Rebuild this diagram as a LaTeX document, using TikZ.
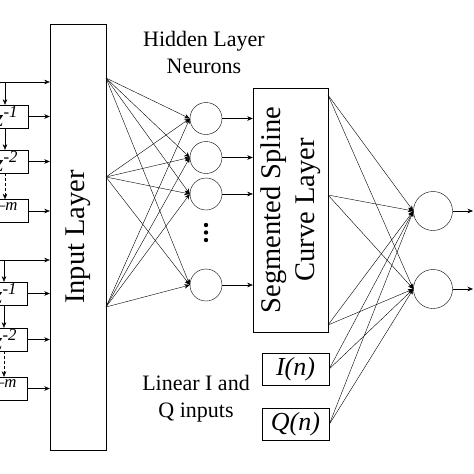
\documentclass[tikz,border=0pt]{standalone}
\usepackage{fontspec}
\setmainfont{Liberation Serif}
\usepackage{tikz}
\usetikzlibrary{
  arrows.meta,
  positioning,  % Function "of" (e.g. [right=of x])
  calc,         % Calculations $...$
}
\def\mytap{7pt}
\def\mytail{8pt}
\tikzset{
  font=\fontsize{22}{27}\selectfont,
  line width=1.3pt,
  >={Stealth[length=5.5pt,width=4.5pt]},
  my layer/.style={
    draw,
    rectangle,
    inner sep=0pt
  },
  my layer text/.style={
    rotate=90,
    align=center,
    font=\fontsize{28.5}{34}\selectfont
  },
  my delay/.style={
    draw,
    rectangle,
    minimum width=60pt,
    minimum height=23pt,
    text width=56pt,
    inner sep=0pt,
    align=right,
    font=\fontsize{24}{24}\selectfont\itshape
  },
  my neuron/.style={
    draw,
    circle,
    minimum size=32pt,
    inner sep=0pt
  },
  my out neuron/.style={
    my neuron,
    minimum size=39pt
  },
  my signal/.style={
    draw,
    rectangle,
    minimum width=67pt,
    minimum height=32pt,
    inner sep=0pt,
    font=\fontsize{26}{26}\selectfont\itshape
  },
  my tapped/.style={
    dash pattern=on 3pt off 2pt
  }
}
\newcommand{\zd}[1]{z\textsuperscript{#1}\kern\mytail}
\begin{document}
\begin{tikzpicture}[x=1pt,y=-1pt]
\clip (0,0) rectangle (474,474);
% layers
\node[my layer,minimum width=56pt,minimum height=426pt] (input) at (78,237) {};
\node[my layer text] (inputtext) at (input.center) {Input Layer};
\node[my layer,minimum width=75pt,minimum height=244pt] (spline) at (290.5,210) {};
\node[my layer text] (splinetext) at (spline.center) {Segmented Spline\\Curve Layer};
% tapped delay lines
\node[my delay] (a1) at (-2,116.5) {\zd{-1}};
\node[my delay] (a2) at (-2,161.5) {\zd{-2}};
\node[my delay] (am) at (-2,211)   {\zd{\textendash m}};
\node[my delay] (b1) at (-3,293.5) {\zd{-1}};
\node[my delay] (b2) at (-3,339.5) {\zd{-2}};
\node[my delay] (bm) at (-3,388.5) {\zd{\textendash m}};
\coordinate (ta) at (-5,82);
\coordinate (tb) at (-5,260);
\draw[->] (ta) -- (ta -| input.west);
\draw[->] (tb) -- (tb -| input.west);
\draw[->] ([xshift=\mytap]a1.north |- ta) -- ([xshift=\mytap]a1.north);
\draw[->] ([xshift=\mytap]a1.south) -- ([xshift=\mytap]a2.north);
\draw[->,my tapped] ([xshift=\mytap]a2.south) -- ([xshift=\mytap]am.north);
\draw[->] ([xshift=\mytap]b1.north |- tb) -- ([xshift=\mytap]b1.north);
\draw[->] ([xshift=\mytap]b1.south) -- ([xshift=\mytap]b2.north);
\draw[->,my tapped] ([xshift=\mytap]b2.south) -- ([xshift=\mytap]bm.north);
\foreach \d in {a1,a2,am,b1,b2,bm}
  \draw[->] (\d.east) -- (\d.east -| input.west);
% hidden layer
\node[my neuron] (h1) at (206,118.5) {};
\node[my neuron] (h2) at (206,157.5) {};
\node[my neuron] (h3) at (206,194) {};
\node[my neuron] (hn) at (206,285) {};
\foreach \y in {225,232.5,240}
  \fill (206,\y) circle (2.2pt);
\coordinate (i1) at (106,78);
\coordinate (i2) at (106,177);
\coordinate (i3) at (106,307);
\foreach \s in {i1,i2,i3}
  \foreach \t in {h1,h2,h3,hn}
    \draw[->] (\s) -- (\t.west);
\foreach \t in {h1,h2,h3,hn}
  \draw[->] (\t.east) -- (\t.east -| spline.west);
\node[align=center] (hiddentext) at (204,52.5) {Hidden Layer\\Neurons};
% linear inputs
\node[my signal] (in) at (295.5,369) {I(n)};
\node[my signal] (qn) at (295.5,424.5) {Q(n)};
\node[align=center] (lineartext) at (196,398.5) {Linear I and\\Q inputs};
% output layer
\node[my out neuron] (o1) at (433,211) {};
\node[my out neuron] (o2) at (433,289) {};
\coordinate (s1) at (328,95);
\coordinate (s2) at (328,195);
\coordinate (s3) at (328,325);
\foreach \s in {s1,s2,s3,in.east,qn.east}
  \foreach \t in {o1,o2}
    \draw[->] (\s) -- (\t.west);
\coordinate (y1) at (473,211);
\coordinate (y2) at (473,289);
\draw[->] (o1.east) -- (y1);
\draw[->] (o2.east) -- (y2);
\end{tikzpicture}
\end{document}
